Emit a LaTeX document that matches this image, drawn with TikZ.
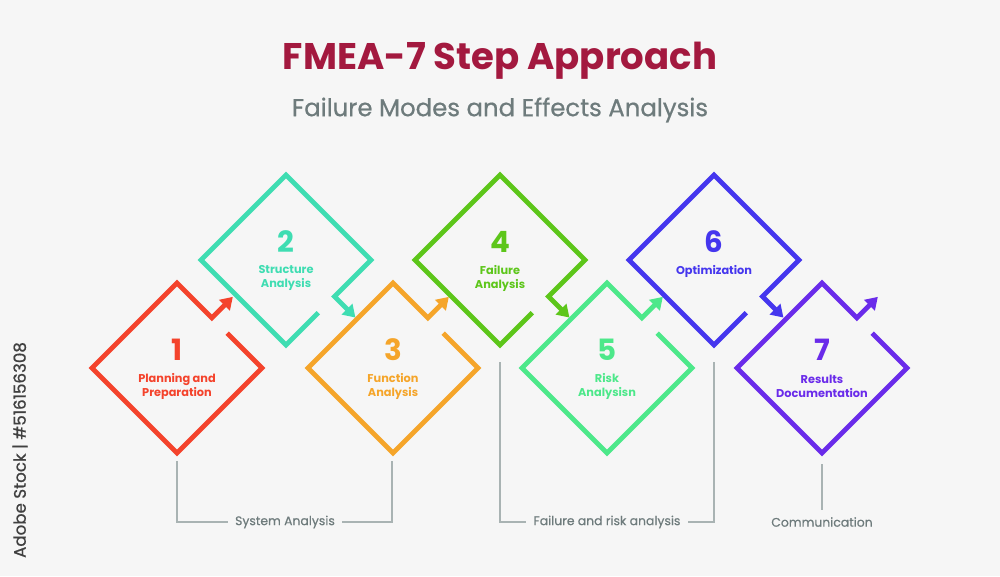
\documentclass[tikz,border=0pt]{standalone}
\usepackage{fontspec}
\setmainfont{Poppins}
\usetikzlibrary{calc,arrows.meta}
\definecolor{bg}{HTML}{F6F6F6}
\definecolor{titlec}{HTML}{A3193F}
\definecolor{subc}{HTML}{6E7B7C}
\definecolor{brc}{HTML}{A9B3B3}
\definecolor{cA}{HTML}{F4432C}
\definecolor{cB}{HTML}{3FDDB2}
\definecolor{cC}{HTML}{F5A52A}
\definecolor{cD}{HTML}{5DC61A}
\definecolor{cE}{HTML}{4DE88A}
\definecolor{cF}{HTML}{4536EE}
\definecolor{cG}{HTML}{6A2BEA}
\tikzset{
  dia/.style={line width=3.6pt,line join=miter,line cap=butt,-{Triangle[length=9pt,width=11pt]}},
  num/.style={font=\bfseries\fontsize{22}{22}\selectfont},
  lab/.style={font=\bfseries\fontsize{8.5}{10.5}\selectfont,align=center},
  brk/.style={draw=brc,line width=0.8pt},
  brl/.style={font=\fontsize{9.3}{11}\selectfont\addfontfeatures{FakeBold=0.5},text=subc,inner sep=1pt}
}
\newcommand{\odddia}[3]{% name, center, color
  \coordinate (#1) at (#2);
  \coordinate (#1T) at ($(#1)+(0,-85)$);
  \coordinate (#1R) at ($(#1)+(85,0)$);
  \coordinate (#1B) at ($(#1)+(0,85)$);
  \coordinate (#1L) at ($(#1)+(-85,0)$);
  \draw[dia,draw=#3,fill=none,#3] ($(#1T)!0.59!(#1R)$) -- (#1R) -- (#1B) -- (#1L) -- (#1T) -- ($(#1T)!0.41!(#1R)$) -- ++(21,-21);
}
\newcommand{\evendia}[3]{%
  \coordinate (#1) at (#2);
  \coordinate (#1T) at ($(#1)+(0,-85)$);
  \coordinate (#1R) at ($(#1)+(85,0)$);
  \coordinate (#1B) at ($(#1)+(0,85)$);
  \coordinate (#1L) at ($(#1)+(-85,0)$);
  \draw[dia,draw=#3,#3] ($(#1R)!0.62!(#1B)$) -- (#1B) -- (#1L) -- (#1T) -- (#1R) -- ($(#1R)!0.43!(#1B)$) -- ++(21,21);
}
\begin{document}
\begin{tikzpicture}[x=0.75pt,y=-0.75pt]
\fill[bg] (0,0) rectangle (1000,576);
\useasboundingbox (0,0) rectangle (1000,576);
\node[font=\bfseries\fontsize{27.8}{32}\selectfont,text=titlec] (title) at (500,61) {FMEA-7 Step Approach};
\node[font=\fontsize{18.3}{22}\selectfont,text=subc] (sub) at (500,110) {\addfontfeatures{FakeBold=0.6}Failure Modes and Effects Analysis};
\node[rotate=90,font=\fontsize{12.5}{14}\selectfont,text=black!75] (stock) at (20,450) {\addfontfeatures{FakeBold=0.8}Adobe Stock | \#516156308};

\odddia{d1}{177,368}{cA}
\evendia{d2}{286,260}{cB}
\odddia{d3}{393,368}{cC}
\evendia{d4}{500,260}{cD}
\odddia{d5}{607,368}{cE}
\evendia{d6}{714,260}{cF}
\odddia{d7}{822,368}{cG}

\node[num,text=cA] (n1) at ($(d1)+(0,-18)$) {1};
\node[lab,text=cA] (l1) at ($(d1)+(0,18)$) {Planning and\\Preparation};
\node[num,text=cB] (n2) at ($(d2)+(0,-18)$) {2};
\node[lab,text=cB] (l2) at ($(d2)+(0,18)$) {Structure\\Analysis};
\node[num,text=cC] (n3) at ($(d3)+(0,-18)$) {3};
\node[lab,text=cC] (l3) at ($(d3)+(0,18)$) {Function\\Analysis};
\node[num,text=cD] (n4) at ($(d4)+(0,-18)$) {4};
\node[lab,text=cD] (l4) at ($(d4)+(0,18)$) {Failure\\Analysis};
\node[num,text=cE] (n5) at ($(d5)+(0,-18)$) {5};
\node[lab,text=cE] (l5) at ($(d5)+(0,18)$) {Risk\\Analysisn};
\node[num,text=cF] (n6) at ($(d6)+(0,-18)$) {6};
\node[lab,text=cF] (l6) at ($(d6)+(0,11)$) {Optimization};
\node[num,text=cG] (n7) at ($(d7)+(0,-18)$) {7};
\node[lab,text=cG] (l7) at ($(d7)+(0,18)$) {Results\\Documentation};

\node[brl] (sys) at (285,522) {System Analysis};
\draw[brk] (177,461) |- ($(sys.west)+(-6,0)$);
\draw[brk] ($(sys.east)+(6,0)$) -| (392,461);
\node[brl] (fra) at (607,522) {Failure and risk analysis};
\draw[brk] (500,362) |- ($(fra.west)+(-6,0)$);
\draw[brk] ($(fra.east)+(6,0)$) -| (714,362);
\node[brl] (com) at (822,522) {Communication};
\draw[brk] (822,464) -- ($(com.north)+(0,-6)$);
\end{tikzpicture}
\end{document}
